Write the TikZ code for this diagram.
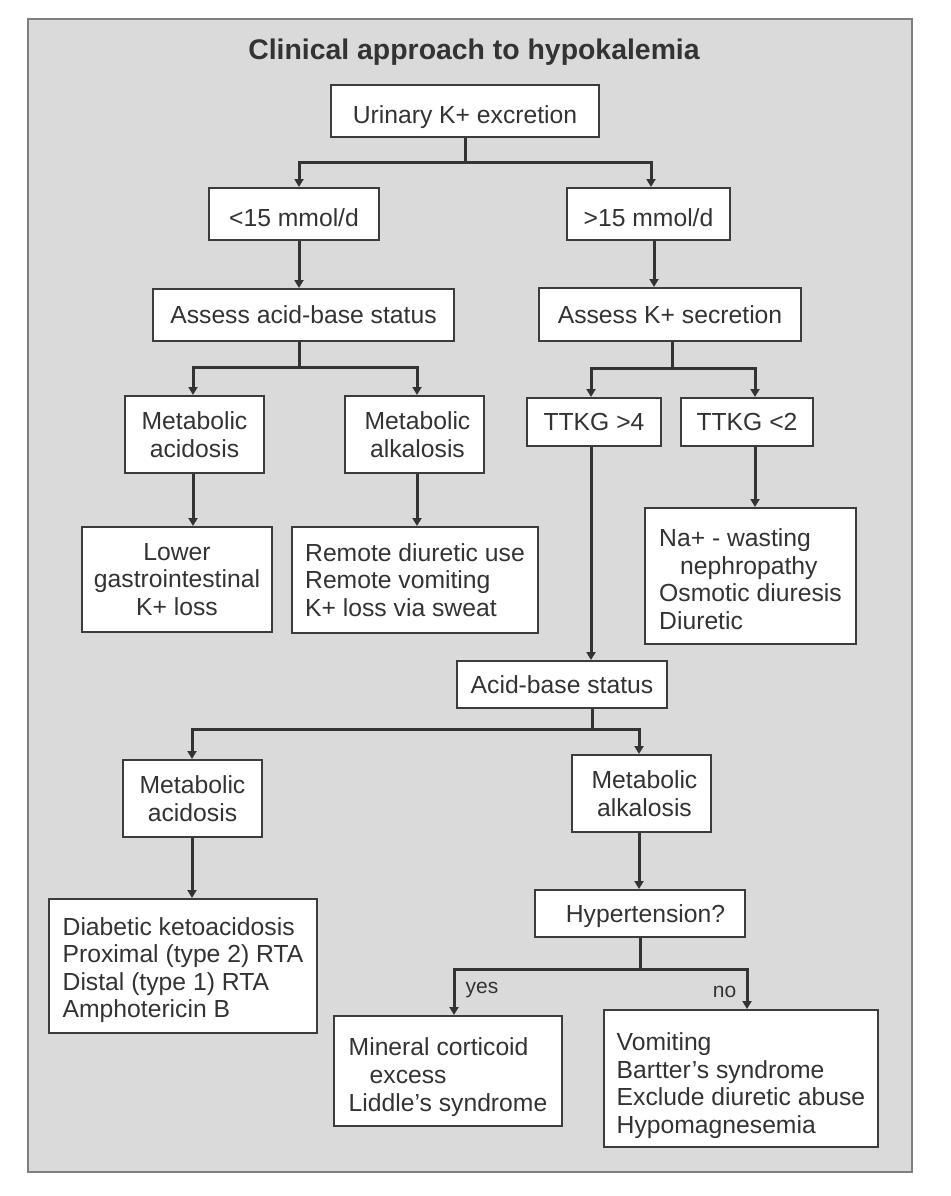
\documentclass[tikz,border=0pt]{standalone}
\usepackage{fontspec}
\setmainfont{Liberation Sans}
\usetikzlibrary{arrows.meta}
\definecolor{panelfill}{HTML}{DADADA}
\definecolor{panelline}{HTML}{7F7F7F}
\definecolor{ink}{HTML}{333333}
\definecolor{boxline}{HTML}{3C3C3C}
\newcommand{\lift}[1]{\rule{0pt}{#1pt}}
\begin{document}
\begin{tikzpicture}[x=1pt,y=-1pt,
  box/.style={draw=boxline, line width=2pt, fill=white, text=ink, inner sep=0pt,
    font=\fontsize{24.7}{27.6}\selectfont, align=center},
  lbox/.style={box, align=left},
  lbl/.style={text=ink, inner sep=0pt, font=\fontsize{21}{24}\selectfont},
  conn/.style={draw=ink, line width=3pt},
  arr/.style={conn, -{Triangle[width=9pt,length=8pt]}}]
\fill[white] (0,0) rectangle (950,1196);
\useasboundingbox (0,0) rectangle (950,1196);
\draw[fill=panelfill, draw=panelline, line width=2.5pt] (28,19) rectangle (912,1172);

\node[text=ink, anchor=base, inner sep=0pt, font=\fontsize{28.4}{32}\selectfont\bfseries] (title) at (474,60) {Clinical approach to hypokalemia};

\node[box, minimum width=268pt, minimum height=52pt] (urin) at (465,111) {\lift{31}Urinary K+ excretion};
\node[box, minimum width=170pt, minimum height=52pt] (lt15) at (294,214) {\lift{26}<15 mmol/d};
\node[box, minimum width=163pt, minimum height=52pt] (gt15) at (648.5,214) {\lift{26}>15 mmol/d};
\node[box, minimum width=301pt, minimum height=52pt] (aab) at (303.5,315) {Assess acid-base status};
\node[box, minimum width=262pt, minimum height=53pt] (aks) at (670,314.5) {Assess K+ secretion};
\node[box, minimum width=139pt, minimum height=77pt] (ma1) at (194.5,434.5) {Metabolic\\acidosis};
\node[box, minimum width=139pt, minimum height=77pt] (mk1) at (414.5,434.5) {\hspace*{6pt}Metabolic\\\hspace*{6pt}alkalosis};
\node[box, minimum width=190pt, minimum height=105pt] (lgi) at (177,579.5) {Lower\\gastrointestinal\\K+ loss};
\node[lbox, minimum width=246pt, minimum height=106pt] (rem) at (415,580) {Remote diuretic use\\Remote vomiting\\K+ loss via sweat};
\node[box, minimum width=134pt, minimum height=48pt] (tg4) at (594,422) {TTKG >4};
\node[box, minimum width=132pt, minimum height=48pt] (tl2) at (747,422) {TTKG <2};
\node[lbox, minimum width=211pt, minimum height=136pt] (na) at (750.5,576) {\lift{24}Na+ - wasting\\\hspace*{21pt}nephropathy\\Osmotic diuresis\\Diuretic};
\node[box, minimum width=210pt, minimum height=47pt] (abs) at (562,684.5) {Acid-base status};
\node[box, minimum width=139pt, minimum height=77pt] (ma2) at (192.5,798.5) {Metabolic\\acidosis};
\node[box, minimum width=139pt, minimum height=77pt] (mk2) at (641.5,793.5) {\hspace*{6pt}Metabolic\\\hspace*{6pt}alkalosis};
\node[lbox, minimum width=268pt, minimum height=134pt] (dka) at (183,966) {\lift{26}Diabetic ketoacidosis\\Proximal (type 2) RTA\\Distal (type 1) RTA\\Amphotericin B};
\node[box, minimum width=210pt, minimum height=47pt] (hyp) at (640,913.5) {\lift{24}\hspace*{11pt}Hypertension?};
\node[lbox, minimum width=228pt, minimum height=110pt] (min) at (448,1071) {\lift{30}Mineral corticoid\\\hspace*{21pt}excess\\Liddle’s syndrome};
\node[lbox, minimum width=274pt, minimum height=137pt] (vom) at (741,1078.5) {\lift{32}Vomiting\\Bartter’s syndrome\\Exclude diuretic abuse\\Hypomagnesemia};

\node[lbl] (yes) at (482,990) {yes};
\node[lbl] (no) at (724.5,992) {no};

% level 1
\coordinate (j1) at (465,162);
\draw[conn] (urin.south) -- (j1);
\draw[arr] (j1) -| ([xshift=5pt]lt15.north);
\draw[arr] (j1) -| ([xshift=2.5pt]gt15.north);
\draw[arr] ([xshift=5pt]lt15.south) -- ([xshift=5pt]lt15.south |- aab.north);
\draw[arr] ([xshift=5.5pt]gt15.south) -- ([xshift=5.5pt]gt15.south |- aks.north);

% left branch
\coordinate (j2) at (299,367);
\draw[conn] ([xshift=-4.5pt]aab.south) -- (j2);
\draw[arr] (j2) -| ([xshift=-1.5pt]ma1.north);
\draw[arr] (j2) -| ([xshift=2.5pt]mk1.north);
\draw[arr] ([xshift=-1.5pt]ma1.south) -- ([xshift=-1.5pt]ma1.south |- lgi.north);
\draw[arr] ([xshift=2.5pt]mk1.south) -- ([xshift=2.5pt]mk1.south |- rem.north);

% right branch
\coordinate (j3) at (672,368);
\draw[conn] ([xshift=2pt]aks.south) -- (j3);
\draw[arr] (j3) -| ([xshift=-3pt]tg4.north);
\draw[arr] (j3) -| ([xshift=8pt]tl2.north);
\draw[arr] ([xshift=8pt]tl2.south) -- ([xshift=8pt]tl2.south |- na.north);
\draw[arr] ([xshift=-3pt]tg4.south) -- ([xshift=-3pt]tg4.south |- abs.north);

% acid-base status
\coordinate (j4) at (592,729);
\draw[conn] ([xshift=30pt]abs.south) -- (j4);
\draw[arr] (j4) -| ([xshift=-0.5pt]ma2.north);
\draw[arr] (j4) -| ([xshift=-2.5pt]mk2.north);
\draw[arr] ([xshift=-0.5pt]ma2.south) -- ([xshift=-0.5pt]ma2.south |- dka.north);
\draw[arr] ([xshift=-2.5pt]mk2.south) -- ([xshift=-2.5pt]mk2.south |- hyp.north);

% hypertension
\coordinate (j5) at (640,969);
\draw[conn] (hyp.south) -- (j5);
\draw[arr] (j5) -| ([xshift=6pt]min.north);
\draw[arr] (j5) -| ([xshift=6pt]vom.north);
\end{tikzpicture}
\end{document}
